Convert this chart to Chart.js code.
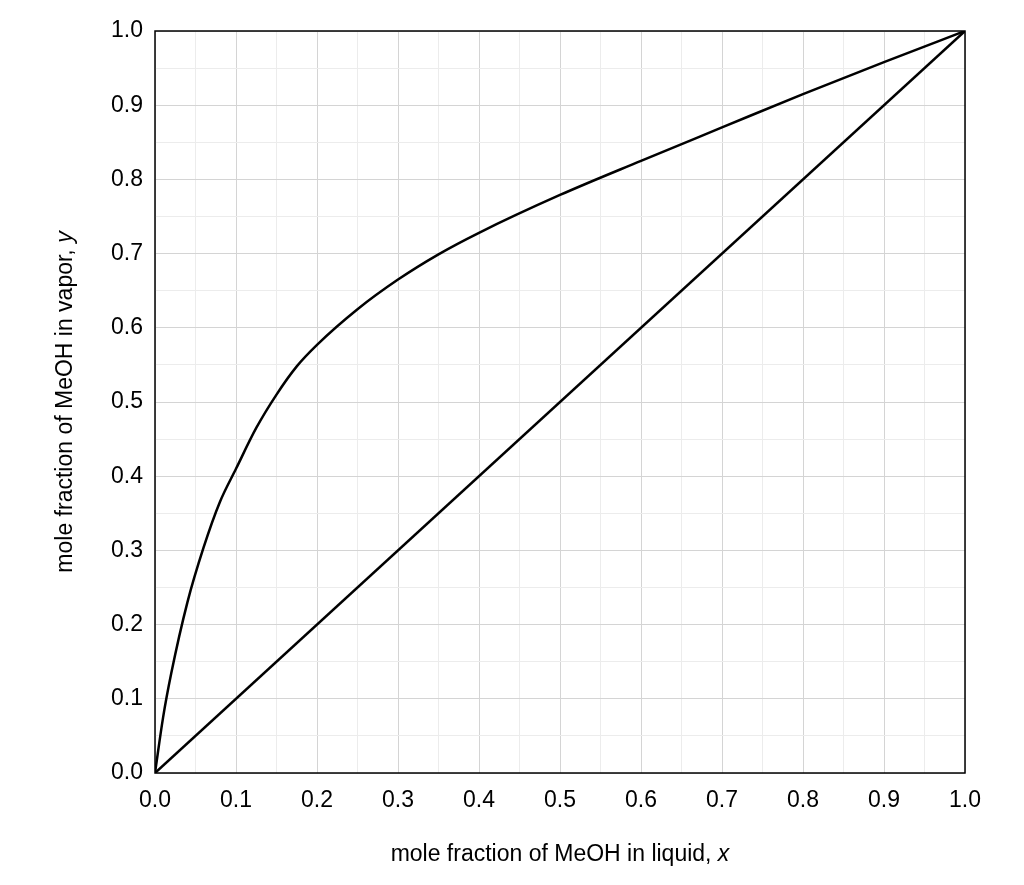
<!DOCTYPE html>
<html><head><meta charset="utf-8">
<script src="https://cdn.jsdelivr.net/npm/chart.js@4"></script>
<style>html,body{margin:0;padding:0;background:#fff}#w{width:1024px;height:885px}</style>
</head><body><div id="w"><canvas id="c"></canvas></div>
<script>
const liquidX = [0,0.01,0.02,0.04,0.06,0.08,0.1,0.125,0.15,0.175,0.2,0.25,0.3,0.35,0.4,0.5,0.6,0.7,0.8,0.9,1.0];
const vaporY  = [0,0.075,0.134,0.23,0.304,0.365,0.41,0.465,0.51,0.548,0.577,0.625,0.665,0.699,0.728,0.779,0.825,0.87,0.915,0.958,1.0];
const diagX = [0,1];
const diagY = [0,1];
const xTitle = ['mole fraction of MeOH in liquid, ', 'x'];
const yTitle = ['mole fraction of MeOH in vapor, ', 'y'];
const FONT = '"Liberation Sans", Arial, sans-serif';
const tickLabel = v => Math.abs(Math.round(v*10)-v*10)<1e-6 ? (Math.round(v*10)/10).toFixed(1) : '';
const isMajor = v => Math.abs(Math.round(v*10)-v*10)<1e-6;
Chart.defaults.font.family = FONT;
Chart.defaults.color = '#000';
function drawTitle(c, parts, x, y){
  c.font = '23px '+FONT; const w0=c.measureText(parts[0]).width;
  c.font = 'italic 23px '+FONT; const w1=c.measureText(parts[1]).width;
  let sx = x-(w0+w1)/2; c.textAlign='left'; c.textBaseline='middle';
  c.font='23px '+FONT; c.fillText(parts[0],sx,y);
  c.font='italic 23px '+FONT; c.fillText(parts[1],sx+w0,y);
}
const frame = {id:'frame',afterDatasetsDraw(ch){const a=ch.chartArea,c=ch.ctx;c.save();c.strokeStyle='#000';c.lineWidth=1.5;c.strokeRect(a.left,a.top,a.right-a.left,a.bottom-a.top);
  c.fillStyle='#000';
  drawTitle(c,xTitle,(a.left+a.right)/2,855);
  c.translate(66,(a.top+a.bottom)/2); c.rotate(-Math.PI/2); drawTitle(c,yTitle,0,0);
  c.restore();}};
function axis(isY){
  return {type:'linear',min:0,max:1,
    ticks:{stepSize:0.05,autoSkip:false,maxRotation:0,font:{size:23},callback:tickLabel,padding:isY?12:14},
    grid:{drawTicks:false,color:ctx=>isMajor(ctx.tick.value)?'#d4d4d4':'#ececec',lineWidth:1},
    border:{display:false},
    afterFit(s){ if(isY) s.width=155; else s.height=112; }};
}
new Chart(document.getElementById('c'),{
  type:'scatter',
  data:{datasets:[
    {data:liquidX.map((x,i)=>({x,y:vaporY[i]})),showLine:true,borderColor:'#000',borderWidth:2.5,pointRadius:0,cubicInterpolationMode:'monotone'},
    {data:diagX.map((x,i)=>({x,y:diagY[i]})),showLine:true,borderColor:'#000',borderWidth:2.5,pointRadius:0}
  ]},
  options:{responsive:true,maintainAspectRatio:false,animation:false,
    layout:{padding:{left:0,right:59,top:31,bottom:0}},
    plugins:{legend:{display:false},tooltip:{enabled:false}},
    scales:{x:axis(false),y:axis(true)}},
  plugins:[frame]
});
</script></body></html>
